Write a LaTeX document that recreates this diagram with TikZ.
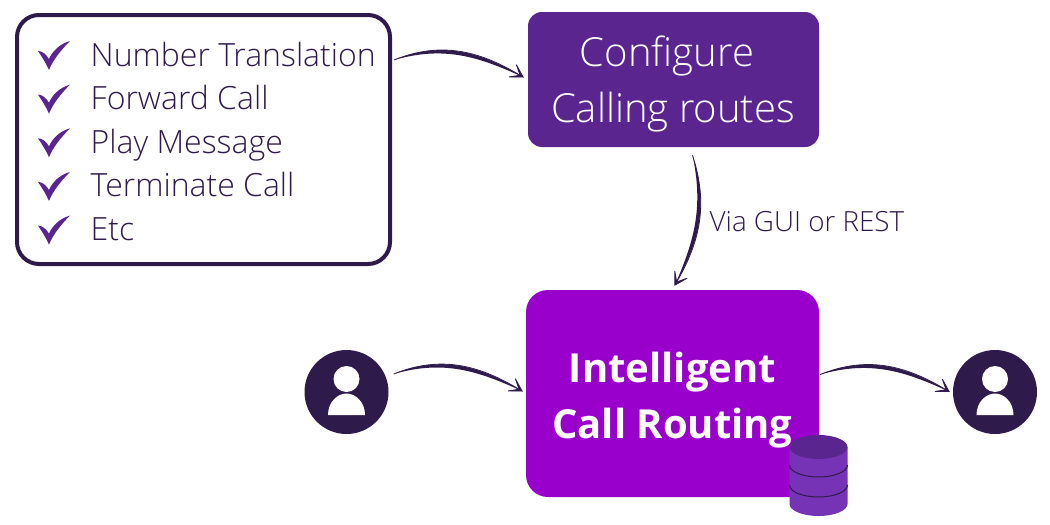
\documentclass[tikz,border=0pt]{standalone}
\usepackage{fontspec}
\setmainfont{Open Sans Light}
\newfontfamily\boldlabel{Open Sans Bold}
\usetikzlibrary{positioning, arrows.meta}

\definecolor{inkpurple}{HTML}{2F1B4B}
\definecolor{deeppurple}{HTML}{5B2590}
\definecolor{brightpurple}{HTML}{9900CC}
\definecolor{drumpurple}{HTML}{7733B5}

\tikzset{
    itemlabel/.style={inner sep=0pt, text=inkpurple, font=\fontsize{32}{32}\selectfont, text height=24pt, text depth=8pt},
    flowline/.style={draw=inkpurple, line width=0.8pt, -{Stealth[length=17pt,width=20pt,inset=12pt]}},
    tick/.pic={
        \fill[deeppurple] (-11,1) .. controls (-7,1) and (-3,4) .. (0,9)
            .. controls (3,2) and (10,-6) .. (21,-9)
            .. controls (12,0) and (4,10) .. (0,20)
            .. controls (-3,13) and (-7,7) .. (-11,1) -- cycle;
    },
    usericon/.pic={
        \fill[white] (0,-13) circle (13);
        \fill[white] (-18.5,23) .. controls (-18.5,10) and (-9,1.5) .. (0,1.5)
            .. controls (9,1.5) and (18.5,10) .. (18.5,23) -- cycle;
    }
}

% tapered connector: thin line with tip, thickened by a lens along it
\newcommand{\flowlink}[6]{
    \draw[flowline] #1 to[out=#3,in=#4] #2;
    \fill[inkpurple] #1 to[out=#3,in=#4] #2 to[out=#6,in=#5] #1;
}

\begin{document}
\begin{tikzpicture}[x=1pt, y=-1pt]
    \useasboundingbox (0,0) rectangle (1050,525);

    % feature list
    \node[draw=inkpurple, line width=4pt, rounded corners=22pt, minimum width=373pt, minimum height=249pt] (listbox) at (203.5,139.5) {};
    \node[itemlabel, anchor=west] (number) at (90.5,58) {Number Translation};
    \node[itemlabel, below=11.25pt of number.south west, anchor=north west] (forward) {Forward Call};
    \node[itemlabel, below=11.25pt of forward.south west, anchor=north west] (play) {Play Message};
    \node[itemlabel, below=11.25pt of play.south west, anchor=north west] (terminate) {Terminate Call};
    \node[itemlabel, below=11.25pt of terminate.south west, anchor=north west] (etc) {Etc};

    \pic at ([xshift=-41.5pt,yshift=8pt]number.west) {tick};
    \pic at ([xshift=-41.5pt,yshift=8pt]forward.west) {tick};
    \pic at ([xshift=-41.5pt,yshift=8pt]play.west) {tick};
    \pic at ([xshift=-41.5pt,yshift=8pt]terminate.west) {tick};
    \pic at ([xshift=-41.5pt,yshift=8pt]etc.west) {tick};

    % the two main blocks
    \node[fill=deeppurple, rounded corners=14pt, minimum width=291pt, minimum height=135pt] (configure) at (673.5,79.5) {};
    \node[text=white, align=center, font=\fontsize{40}{56}\selectfont, inner sep=0pt] (configlabel) at (673,84) {Configure\hspace{12pt}\mbox{}\\Calling routes};
    \node[fill=brightpurple, rounded corners=22pt, minimum width=293pt, minimum height=207pt] (routing) at (672.5,393.5) {};
    \node[text=white, align=center, font=\fontsize{40}{56}\boldlabel, inner sep=0pt] (routinglabel) at (672.5,400) {Intelligent\\Call Routing};

    \node[inner sep=0pt, text=inkpurple, font=\fontsize{27.8}{28}\selectfont, anchor=west] (via) at (709.5,222) {Via GUI or REST};

    % callers
    \node[circle, fill=inkpurple, minimum size=84pt, inner sep=0pt] (caller) at (346.5,392) {};
    \node[circle, fill=inkpurple, minimum size=84pt, inner sep=0pt] (callee) at (995,392) {};
    \pic at (caller) {usericon};
    \pic at (callee) {usericon};

    % database drum
    \fill[drumpurple] (789.5,447) -- (789.5,504) arc[start angle=180, end angle=360, x radius=29, y radius=-12] -- (847.5,447) -- cycle;
    \draw[inkpurple, line width=1pt] (789.5,465) arc[start angle=180, end angle=360, x radius=29, y radius=-12];
    \draw[inkpurple, line width=1pt] (789.5,485) arc[start angle=180, end angle=360, x radius=29, y radius=-12];
    \fill[deeppurple] (818.5,447) ellipse [x radius=29, y radius=12];

    % connectors
    \flowlink{([xshift=18pt,yshift=-2pt]number.east)}{([xshift=-4pt,yshift=2pt]configure.west)}{22}{149}{16}{155}
    \flowlink{([xshift=19pt,yshift=-8pt]configure.south)}{([xshift=2pt,yshift=4pt]routing.north)}{-72}{60}{-78}{66}
    \flowlink{([xshift=5pt,yshift=18pt]caller.east)}{([xshift=-3pt,yshift=2pt]routing.west)}{22}{149}{16}{155}
    \flowlink{([xshift=1pt,yshift=19pt]routing.east)}{([xshift=-3pt]callee.west)}{22}{149}{16}{155}
\end{tikzpicture}
\end{document}
